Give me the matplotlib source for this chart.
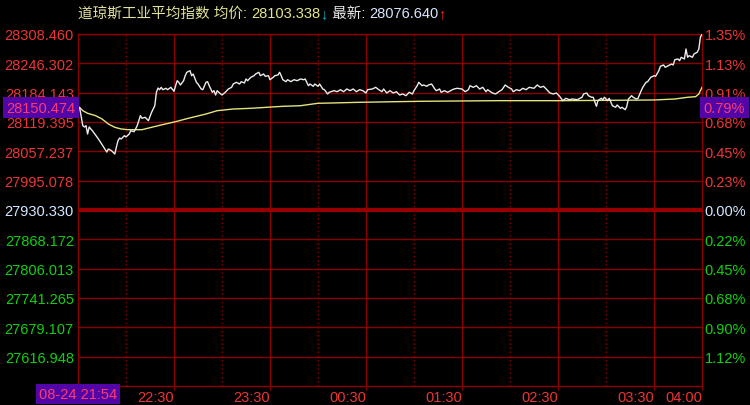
import matplotlib
matplotlib.use("Agg")
import matplotlib.pyplot as plt
import matplotlib.transforms as mtransforms

# --- dados (minutos desde 21:30, preço) ---
base = 27930.330
top = 28308.460
first_label = "28150.474"

price_min = [1, 3, 4, 5, 6, 7, 8, 9, 12, 14, 16, 18, 19, 21, 23, 24, 25, 26, 27, 29,
             30, 32, 33, 35, 36, 37, 38, 39, 40, 42, 43, 44, 46, 47, 48, 49, 50, 51, 52, 53,
             55, 56, 58, 60, 61, 62, 63, 64, 66, 67, 68, 70, 71, 72, 74, 75, 77, 78, 80, 81,
             82, 84, 85, 86, 87, 88, 90, 92, 94, 96, 97, 99, 101, 102, 104, 105, 106, 108, 110, 111,
             113, 114, 116, 117, 119, 120, 122, 123, 125, 126, 127, 128, 130, 131, 133, 135, 137, 139, 141, 142,
             144, 145, 147, 148, 150, 151, 153, 154, 156, 157, 160, 162, 164, 166, 168, 170, 172, 174, 176, 178,
             180, 181, 184, 186, 188, 190, 191, 193, 195, 197, 199, 201, 203, 205, 207, 209, 210, 212, 213, 215,
             216, 218, 219, 221, 223, 224, 226, 227, 229, 231, 234, 235, 237, 240, 242, 244, 245, 247, 249, 251,
             253, 255, 256, 259, 261, 263, 265, 267, 269, 271, 272, 274, 276, 278, 280, 282, 285, 287, 289, 291,
             293, 295, 297, 299, 301, 303, 305, 307, 309, 312, 315, 316, 318, 319, 321, 322, 324, 325, 327, 328,
             329, 331, 332, 334, 336, 337, 339, 340, 342, 343, 344, 346, 347, 349, 350, 352, 353, 355, 356, 358,
             360, 361, 363, 364, 366, 367, 369, 371, 372, 373, 375, 376, 377, 379, 380, 381, 382, 384, 385, 387,
             388, 389, 390]
price_val = [28150.5, 28111.5, 28108.7, 28111.5, 28093.6, 28108.7, 28104.4, 28100.7, 28086.5, 28076.4,
             28065.7, 28054.9, 28061.4, 28057.7, 28050.6, 28065.7, 28079.2, 28085.0, 28082.9, 28090.0,
             28087.2, 28093.6, 28100.7, 28098.6, 28104.4, 28111.5, 28122.2, 28133.0, 28127.4, 28129.5,
             28125.9, 28122.2, 28140.3, 28147.3, 28154.4, 28183.2, 28192.4, 28188.8, 28193.9, 28188.8,
             28191.8, 28188.8, 28193.9, 28185.4, 28197.4, 28208.1, 28204.7, 28198.9, 28208.1, 28218.9,
             28226.2, 28229.6, 28218.9, 28222.5, 28204.7, 28201.0, 28190.3, 28188.8, 28204.7, 28206.0,
             28197.4, 28183.2, 28186.7, 28177.4, 28186.7, 28183.2, 28177.4, 28183.2, 28190.3, 28193.9,
             28201.0, 28204.7, 28201.0, 28206.0, 28203.2, 28211.8, 28208.1, 28215.4, 28218.9, 28222.5,
             28226.2, 28218.9, 28222.5, 28217.6, 28218.9, 28210.3, 28215.4, 28218.9, 28220.4, 28226.2,
             28218.9, 28210.3, 28206.0, 28210.3, 28206.0, 28210.3, 28208.1, 28211.8, 28210.3, 28211.8,
             28197.4, 28201.0, 28196.1, 28201.0, 28196.1, 28201.0, 28190.3, 28188.8, 28179.6, 28183.2,
             28186.7, 28184.5, 28188.8, 28184.5, 28190.3, 28186.7, 28190.3, 28184.5, 28188.8, 28186.7,
             28181.7, 28188.8, 28190.3, 28193.9, 28188.8, 28184.5, 28190.3, 28181.7, 28186.7, 28181.7,
             28184.5, 28177.4, 28179.6, 28175.9, 28183.2, 28179.6, 28186.7, 28197.4, 28204.7, 28197.4,
             28198.9, 28196.1, 28198.9, 28201.0, 28190.3, 28186.7, 28190.3, 28183.2, 28186.7, 28183.2,
             28188.8, 28190.3, 28191.8, 28190.3, 28184.5, 28188.8, 28197.4, 28193.9, 28197.4, 28190.3,
             28193.9, 28184.5, 28188.8, 28181.7, 28179.6, 28184.5, 28188.8, 28198.9, 28193.9, 28190.3,
             28184.5, 28188.8, 28186.7, 28191.8, 28188.8, 28193.9, 28191.8, 28198.9, 28193.9, 28196.1,
             28188.8, 28181.7, 28179.6, 28181.7, 28174.6, 28165.2, 28170.3, 28167.3, 28168.8, 28167.3,
             28172.5, 28179.6, 28181.7, 28175.9, 28172.5, 28172.5, 28153.1, 28165.2, 28170.3, 28167.3,
             28172.5, 28165.2, 28170.3, 28154.4, 28151.0, 28155.9, 28148.8, 28151.0, 28145.8, 28153.1,
             28168.8, 28175.9, 28172.5, 28168.8, 28170.3, 28186.7, 28193.9, 28204.7, 28206.0, 28215.4,
             28218.9, 28217.6, 28229.6, 28239.1, 28241.9, 28236.9, 28240.4, 28244.0, 28241.9, 28253.2,
             28254.8, 28251.1, 28258.4, 28254.8, 28276.2, 28258.4, 28261.9, 28258.4, 28265.5, 28269.2,
             28276.2, 28301.4, 28308.4]

avg_min = [1, 3, 6, 11, 15, 19, 23, 27, 31, 36, 40, 46, 52, 61, 69, 80, 87, 97, 108, 118,
           128, 139, 150, 158, 176, 214, 262, 301, 360, 373, 381, 386, 388, 390]
avg_val = [28150.5, 28143.7, 28138.1, 28133.0, 28125.9, 28115.1, 28108.0, 28104.4, 28102.9, 28102.9,
           28102.9, 28108.0, 28113.0, 28120.1, 28127.4, 28136.6, 28143.7, 28147.3, 28148.8, 28151.0,
           28153.1, 28154.4, 28159.6, 28160.2, 28161.7, 28163.9, 28165.2, 28165.2, 28166.7, 28168.8,
           28172.5, 28173.8, 28179.6, 28193.9]

left_labels = ["27616.948", "27679.107", "27741.265", "27806.013", "27868.172", "27930.330",
               "27995.078", "28057.237", "28119.395", "28184.143", "28246.302", "28308.460"]
right_labels = ["1.12%", "0.90%", "0.68%", "0.45%", "0.22%", "0.00%",
                "0.23%", "0.45%", "0.68%", "0.91%", "1.13%", "1.35%"]

time_ticks = [60, 120, 180, 240, 300, 360, 390]
time_labels = ["22:30", "23:30", "00:30", "01:30", "02:30", "03:30", "04:00"]
half_ticks = [30, 90, 150, 210, 270, 330]

# --- cores ---
BG = "black"
GRID = "#8c0000"
RED = "#ee3434"
GREEN = "#10d010"
ZERO = "#d4e8ff"
PURPLE = "#5206a8"
PINK = "#ff3a6e"
FONT = "Liberation Sans"
FS = 10.5

step = (top - base) / 6
yticks = [base + k * step for k in range(-5, 7)]


def cor(v):
    if abs(v - base) < 1:
        return ZERO
    return RED if v > base else GREEN


fig = plt.figure(figsize=(7.5, 4.06), dpi=100, facecolor=BG)
ax = fig.add_axes([78 / 750, 19 / 406, 624 / 750, 352 / 406])
ax.set_facecolor(BG)
ax.set_xlim(0, 390)
ax.set_ylim(base - 6 * step, top)

# grade
for t in yticks:
    ax.axhline(t, color=GRID, lw=1.0, zorder=1)
ax.axhline(base, color="#960000", lw=3.0, zorder=1)
for t in time_ticks[:-1]:
    ax.axvline(t, color=GRID, lw=1.0, zorder=1)
for t in half_ticks:
    ax.axvline(t, color=GRID, lw=1.0, ls=(0, (1, 2)), zorder=1)
for s in ax.spines.values():
    s.set_color(GRID)
    s.set_linewidth(1.0)

# linhas
ax.plot(avg_min, avg_val, color="#e4e47a", lw=1.0, zorder=3)
ax.plot(price_min, price_val, color="#ececec", lw=1.0, zorder=4)

# eixo y esquerdo
ax.set_yticks(yticks)
ax.set_yticklabels(left_labels, fontfamily=FONT, fontsize=FS)
ax.tick_params(axis="y", length=0, pad=3)
for lbl, v in zip(ax.get_yticklabels(), yticks):
    lbl.set_color(cor(v))

# eixo x
ax.set_xticks(time_ticks)
ax.set_xticklabels(time_labels, fontfamily=FONT, fontsize=FS, ha="right")
ax.tick_params(axis="x", length=3, color=GRID, pad=0, labelcolor=RED)

# eixo y direito
ax2 = ax.twinx()
ax2.set_ylim(ax.get_ylim())
ax2.set_yticks(yticks)
ax2.set_yticklabels(right_labels, fontfamily=FONT, fontsize=FS)
ax2.tick_params(axis="y", length=0, pad=2)
for lbl, v in zip(ax2.get_yticklabels(), yticks):
    lbl.set_color(cor(v))
for s in ax2.spines.values():
    s.set_visible(False)

# marcadores roxos
first = price_val[0]
trans_l = mtransforms.blended_transform_factory(ax.transAxes, ax.transData)
ax.text(-0.004, first, first_label, transform=trans_l,
        ha="right", va="center", color=PINK, fontfamily=FONT, fontsize=FS, clip_on=False,
        zorder=10, bbox=dict(boxstyle="square,pad=0.24", fc=PURPLE, ec="none"))
pct = (float(first_label) / base - 1) * 100
ax2.text(1.003, first, f"{pct:.2f}%", transform=trans_l,
         ha="left", va="center", color=PINK, fontfamily=FONT, fontsize=FS, clip_on=False,
         zorder=10, bbox=dict(boxstyle="square,pad=0.24", fc=PURPLE, ec="none"))
ax2.text(0.0, -0.004, "08-24 21:54", transform=ax.transAxes, ha="center", va="top",
         color=PINK, fontfamily=FONT, fontsize=FS, clip_on=False, zorder=10,
         bbox=dict(boxstyle="square,pad=0.2", fc=PURPLE, ec="none"))

# título em partes
fam = [FONT, "Noto Sans CJK SC", "DejaVu Sans"]
parts = [
    ("道琼斯工业平均指数 均价: ", "#e2e29a"),
    ("28103.338", "#e6e68c"),
    ("↓", "#10b8c8"),
    (" 最新: ", "#e8e8e8"),
    ("28076.640", "#d8e6ff"),
    ("↑", "#ff2828"),
]
prev = fig.text(78 / 750, 1 - 14 / 406, parts[0][0], color=parts[0][1],
                family=fam, fontsize=10.5, va="center", ha="left")
for txt, col in parts[1:]:
    prev = ax.annotate(txt, xy=(1, 0), xycoords=prev, va="bottom", ha="left",
                       color=col, family=fam, fontsize=10.5, annotation_clip=False)

fig.savefig("out.png", dpi=100, facecolor=BG)
